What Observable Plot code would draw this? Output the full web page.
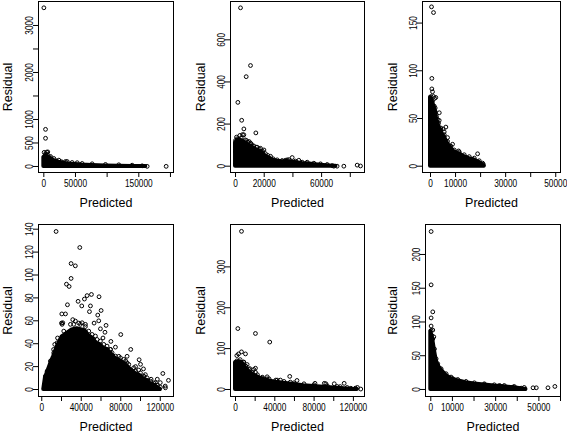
<!DOCTYPE html>
<html>
<head>
<meta charset="utf-8">
<script src="https://cdn.jsdelivr.net/npm/d3@7"></script>
<script src="https://cdn.jsdelivr.net/npm/@observablehq/plot@0.6"></script>
<style>
  html, body { margin: 0; padding: 0; background: #fff; }
  #wrap { position: relative; width: 567px; height: 433px; background: #fff; overflow: hidden; }
  #wrap svg { position: absolute; }
</style>
</head>
<body>
<div id="wrap"></div>
<script>
// ---------- Panel 1 (top left) ----------
const p1EnvPred = [0, 2680, 5300, 10570, 15830, 23720, 34250, 44770, 60560, 76000, 97000, 118000, 140000, 158000, 161000];
const p1EnvRes  = [190, 225, 210, 165, 125, 90, 62, 45, 30, 20, 10, 5, 2, 0, 0];
const p1OutPred = [100, 2700, 2700, 500, 4500, 6300, 8400, 13600, 36900, 52700, 163200, 193200, 3500, 20000, 28000, 10500,
                   2680, 5310, 10570, 15830, 23720, 34250, 44770, 60560, 76350, 97400, 118400, 139500, 155300];
const p1OutRes  = [3376, 790, 600, 300, 305, 310, 200, 145, 106, 80, 3, 3, 250, 120, 100, 170,
                   270, 255, 213, 170, 135, 106, 85, 64, 57, 43, 36, 28, 14];
const p1XTicks = [0, 50000, 100000, 150000, 200000];
const p1XLabels = [0, 50000, 150000];
const p1YTicks = [0, 500, 1000, 1500, 2000, 2500, 3000];
const p1YLabels = [0, 500, 1000, 2000, 3000];

// ---------- Panel 2 (top middle) ----------
const p2EnvPred = [0, 2000, 4000, 6700, 8600, 10900, 12800, 14600, 16500, 18800, 20900, 22500, 26300, 29000, 32500, 36000, 41800, 46500, 50000, 54600, 59300, 63900, 67400, 70000];
const p2EnvRes  = [110, 125, 122, 112, 102, 94, 85, 78, 70, 60, 49, 42, 28, 24, 21, 22, 17, 13, 12, 8, 5, 2, 0, 0];
const p2OutPred = [3480, 10450, 7440, 1630, 4300, 5820, 14170, 4880, 5810, 1160, 230, 2100, 7660, 9500, 10450, 11600, 15100, 17400, 19800, 18600, 16300, 24400, 23900, 39500, 44100, 37200, 34800, 68500, 70800, 75500, 84800, 87100,
                   0, 700, 3020, 3950, 6740, 8600, 10920, 12780, 14640, 16500, 18820, 20910, 22540, 26260, 29040, 32530, 36000, 41820, 46470, 49950, 54600, 59250, 63900, 67390];
const p2OutRes  = [752, 478, 425, 303, 218, 177, 158, 150, 149, 130, 114, 116, 122, 117, 109, 98, 90, 85, 77, 66, 74, 47, 36, 41, 28, 31, 28, 0, 0, 0, 5, 1,
                   122, 138, 146, 134, 125, 114, 106, 96, 90, 82, 71, 59, 51, 35, 30, 27, 30, 24, 19, 19, 14, 11, 8, 3];
const p2XTicks = [0, 20000, 40000, 60000, 80000];
const p2XLabels = [0, 20000, 60000];
const p2YTicks = [0, 200, 400, 600];
const p2YLabels = [0, 200, 400, 600];

// ---------- Panel 3 (top right) ----------
const p3EnvPred = [0, 800, 1870, 2400, 3200, 4130, 5470, 6800, 8130, 9470, 11470, 13470, 15470, 17470, 19470, 20800, 21500];
const p3EnvRes  = [72, 67, 59, 50, 43, 36, 31, 24, 19, 15, 13, 10, 8, 6.5, 4, 1.5, 0];
const p3OutPred = [400, 1200, 530, 530, 800, 1200, 1600, 2100, 1500, 1900, 3500, 2800, 3470, 4130, 5070, 6130, 5470, 6800, 5070, 11200, 18800, 14130, 16800, 21070, 19500, 8800,
                   130, 800, 1870, 2400, 3200, 4130, 5470, 6800, 8130, 9470, 11470, 13470, 15470, 17470, 19470, 20800];
const p3OutRes  = [167, 161, 92, 81, 78, 73, 71, 72, 63, 57, 56, 49, 48, 40, 39, 41, 36, 30, 30, 16, 13, 9, 7, 2, 2, 23,
                   73, 68, 61, 52, 45, 38, 33, 26, 21, 17, 15, 12, 10, 8.5, 5.7, 3.2];
const p3XTicks = [0, 10000, 20000, 30000, 40000, 50000];
const p3XLabels = [0, 10000, 30000, 50000];
const p3YTicks = [0, 50, 100, 150];
const p3YLabels = [0, 50, 100, 150];

// ---------- Panel 4 (bottom left) ----------
const p4EnvPred = [2000, 3700, 5400, 8780, 12150, 15530, 20600, 25700, 30700, 35800, 40800, 44200, 47600, 51000, 56000, 59400, 62800, 66200, 69500, 74600, 79700, 83000, 88100, 94900, 99900, 103300, 106700, 110000, 113400, 116800, 120200];
const p4EnvRes  = [0, 10, 14, 22, 29, 37, 46, 49, 52, 53, 52, 51, 47, 45, 40, 39, 36, 35, 32, 27, 25, 23, 19, 14, 12, 9, 8, 5, 4, 2, 0];
const p4OutPred = [14500, 38500, 29700, 34000, 29700, 25000, 27700, 58000, 45900, 50300, 43200, 36800, 26000, 40500, 49300, 60100, 20300, 56700, 48300, 65100, 57700, 80000, 90100, 98600, 122600, 128300, 115100, 20000, 24000, 31400, 37500, 44200, 59400, 86400, 78000, 98200, 104900, 110700, 117000, 74600, 69600, 106000, 112000, 120000, 125000, 95000, 100000, 103000, 85000, 70000, 64000, 53000, 16000, 12000, 62000,
                   3710, 5400, 8780, 12150, 13170, 15530, 20600, 21270, 22280, 27340, 29030, 32400, 34090, 39150, 40840, 44220, 47590, 50970, 54340, 56030, 59400, 62780, 66160, 69530, 71220, 74600, 79660, 83040, 86410, 88100, 93170, 94860, 99920, 103300, 106670, 110050, 113420, 116800, 120170, 125230];
const p4OutRes  = [138, 124, 110, 108, 97, 92, 90, 81, 82, 83, 79, 77, 74, 73, 73, 69, 66, 65, 68, 56, 60, 48, 35, 26, 14, 8, 6, 58, 66, 61, 58, 55, 53, 29, 29, 17, 13, 9, 9, 37, 35, 8, 4, 6, 3, 20, 22, 18, 25, 42, 50, 58, 45, 35, 45,
                   11.7, 16, 24.9, 32.1, 39.4, 40.8, 56.9, 58.3, 51, 49.6, 56.9, 56.9, 59.8, 56.9, 58.3, 56.9, 51, 48.1, 46.7, 43.7, 42.3, 39.4, 37.9, 35, 32.1, 29.2, 27.7, 26.3, 23.3, 21.9, 19, 16, 14.6, 11.7, 10.2, 7.3, 5.8, 3.8, 2, 1.5];
const p4XTicks = [0, 20000, 40000, 60000, 80000, 100000, 120000];
const p4XLabels = [0, 40000, 80000, 120000];
const p4YTicks = [0, 20, 40, 60, 80, 100, 120, 140];
const p4YLabels = [0, 20, 40, 60, 80, 100, 120, 140];

// ---------- Panel 5 (bottom middle) ----------
const p5EnvPred = [0, 5000, 8100, 10500, 13900, 17300, 22300, 27400, 34200, 40900, 49400, 59600, 69700, 79900, 93400, 103500, 113700, 120000, 124000];
const p5EnvRes  = [66, 68, 62, 52, 44, 37, 31, 25, 21, 18, 15, 12, 9, 7, 5, 3, 1, 0, 0];
const p5OutPred = [6090, 2370, 20300, 34840, 1350, 3040, 6090, 10150, 8460, 11840, 14550, 18600, 20300, 20300, 27100, 32200, 42300, 45700, 55200, 62600, 55800, 80900, 90400, 92000, 100500, 110600, 106600, 117400, 124100, 127500, 32200,
                   1350, 4740, 8120, 10490, 13870, 17250, 22330, 27400, 34170, 40940, 49400, 59550, 69700, 79850, 93380, 103500, 113700, 122100];
const p5OutRes  = [387, 149, 137, 116, 83, 87, 92, 87, 67, 61, 51, 49, 52, 42, 28, 26, 23, 23, 32, 22, 18, 15, 15, 14, 14, 15, 7, 3, 5, 1, 31,
                   70, 73, 67, 57, 49, 42, 36, 30, 26, 22.9, 19.6, 16.3, 13.9, 11.4, 9, 7.4, 4.9, 3.3];
const p5XTicks = [0, 20000, 40000, 60000, 80000, 100000, 120000];
const p5XLabels = [0, 40000, 80000, 120000];
const p5YTicks = [0, 100, 200, 300];
const p5YLabels = [0, 100, 200, 300];

// ---------- Panel 6 (bottom right) ----------
const p6EnvPred = [0, 920, 1690, 2460, 3230, 4770, 7080, 9380, 12460, 16300, 20150, 24770, 29380, 34000, 38610, 43230, 44000];
const p6EnvRes  = [86, 74, 58, 44, 36, 29, 21, 16, 13, 10, 8, 6.5, 5, 4, 2.5, 0.5, 0];
const p6OutPred = [150, 150, 920, 150, 150, 920, 460, 1400, 3230, 4760, 5080, 10150, 14000, 24800, 31800, 38000, 41800, 47300, 48800, 54200, 57400,
                   150, 920, 1690, 2460, 3230, 4770, 7080, 9380, 12460, 16300, 20150, 24770, 29380, 34000, 38610, 43230];
const p6OutRes  = [234, 155, 115, 106, 94, 88, 80, 78, 31, 27, 23, 16, 8, 7, 6, 3.5, 2, 2.5, 2.5, 2.5, 4.5,
                   87.5, 75, 60, 45.5, 38, 30.7, 23.3, 18.4, 14.8, 11.9, 9.9, 8.4, 6.9, 5.9, 4.5, 3];
const p6XTicks = [0, 10000, 20000, 30000, 40000, 50000, 60000];
const p6XLabels = [0, 10000, 30000, 50000];
const p6YTicks = [0, 50, 100, 150, 200];
const p6YLabels = [0, 50, 100, 150, 200];

const xLabelText = "Predicted";
const yLabelText = "Residual";

const FONT = "'Liberation Sans', Arial, Helvetica, sans-serif";

function zip(a, b) { return a.map((v, i) => ({pred: v, res: b[i]})); }

// narrow the tick label glyphs horizontally (R's labels are narrower than Liberation Sans)
function narrowTickLabels(svg) {
  svg.querySelectorAll('g[aria-label$="tick label"] text').forEach(t => {
    const tr = t.getAttribute("transform");
    if (tr) {
      t.setAttribute("transform", tr + " scale(0.83,1)");
    } else {
      const x = +t.getAttribute("x") || 0, y = +t.getAttribute("y") || 0;
      t.removeAttribute("x"); t.removeAttribute("y");
      t.setAttribute("transform", `translate(${x},${y}) scale(0.83,1)`);
    }
  });
}

function panel(cfg) {
  const env = zip(cfg.envPred, cfg.envRes);
  const out = zip(cfg.outPred, cfg.outRes);
  const svg = Plot.plot({
    width: cfg.width, height: cfg.height,
    marginLeft: cfg.ml, marginRight: cfg.mr, marginTop: cfg.mt, marginBottom: cfg.mb,
    x: {domain: cfg.xDomain, label: null},
    y: {domain: cfg.yDomain, label: null},
    style: {fontFamily: FONT, fontSize: "10px", color: "#000", background: "#fff", overflow: "visible"},
    marks: [
      Plot.areaY(env, {x: "pred", y: "res", fill: "#000", stroke: "#000", strokeWidth: 4, strokeLinejoin: "round"}),
      Plot.dot(out, {x: "pred", y: "res", r: 1.9, stroke: "#000", strokeWidth: 1, fill: "none"}),
      Plot.frame({stroke: "#000", strokeWidth: 1}),
      Plot.axisX({ticks: cfg.xTicks, tickFormat: d => cfg.xLabels.includes(d) ? String(d) : "", tickSize: 5, tickPadding: 2, label: null, fontSize: 10}),
      Plot.axisY({ticks: cfg.yTicks, tickFormat: d => cfg.yLabels.includes(d) ? String(d) : "", tickSize: 5, tickPadding: 1, tickRotate: -90, label: null, fontSize: 10}),
      Plot.text([xLabelText], {text: d => d, frameAnchor: "bottom", lineAnchor: "middle", textAnchor: "middle", dy: 30, fontSize: 12.5}),
      Plot.text([yLabelText], {text: d => d, frameAnchor: "left", rotate: -90, lineAnchor: "middle", textAnchor: "middle", dx: -(cfg.ml - cfg.ylx), fontSize: 12.5})
    ]
  });
  narrowTickLabels(svg);
  svg.style.left = cfg.left + "px";
  svg.style.top = cfg.top + "px";
  document.getElementById("wrap").appendChild(svg);
}

panel({left: 0, top: 0, width: 189, height: 216, ml: 38, mr: 16, mt: 1, mb: 44, ylx: 7.5,
  xDomain: [-8400, 204800], yDomain: [-128, 3510],
  envPred: p1EnvPred, envRes: p1EnvRes, outPred: p1OutPred, outRes: p1OutRes,
  xTicks: p1XTicks, xLabels: p1XLabels, yTicks: p1YTicks, yLabels: p1YLabels});

panel({left: 190, top: 0, width: 189, height: 216, ml: 40, mr: 15, mt: 1, mb: 44, ylx: 10,
  xDomain: [-3500, 89900], yDomain: [-30, 782],
  envPred: p2EnvPred, envRes: p2EnvRes, outPred: p2OutPred, outRes: p2OutRes,
  xTicks: p2XTicks, xLabels: p2XLabels, yTicks: p2YTicks, yLabels: p2YLabels});

panel({left: 377, top: 0, width: 190, height: 216, ml: 45, mr: 7, mt: 1, mb: 44, ylx: 15,
  xDomain: [-3200, 51900], yDomain: [-6.6, 172.6],
  envPred: p3EnvPred, envRes: p3EnvRes, outPred: p3OutPred, outRes: p3OutRes,
  xTicks: p3XTicks, xLabels: p3XLabels, yTicks: p3YTicks, yLabels: p3YLabels});

panel({left: 0, top: 216, width: 189, height: 217, ml: 38, mr: 16, mt: 8, mb: 37, ylx: 7.5,
  xDomain: [-3300, 133400], yDomain: [-6.1, 144.1],
  envPred: p4EnvPred, envRes: p4EnvRes, outPred: p4OutPred, outRes: p4OutRes,
  xTicks: p4XTicks, xLabels: p4XLabels, yTicks: p4YTicks, yLabels: p4YLabels});

panel({left: 190, top: 216, width: 189, height: 217, ml: 40, mr: 15, mt: 8, mb: 37, ylx: 10,
  xDomain: [-5100, 131300], yDomain: [-17.2, 403.7],
  envPred: p5EnvPred, envRes: p5EnvRes, outPred: p5OutPred, outRes: p5OutRes,
  xTicks: p5XTicks, xLabels: p5XLabels, yTicks: p5YTicks, yLabels: p5YLabels});

panel({left: 377, top: 216, width: 190, height: 217, ml: 48, mr: 7, mt: 8, mb: 37, ylx: 15,
  xDomain: [-2450, 60000], yDomain: [-10.4, 244.4],
  envPred: p6EnvPred, envRes: p6EnvRes, outPred: p6OutPred, outRes: p6OutRes,
  xTicks: p6XTicks, xLabels: p6XLabels, yTicks: p6YTicks, yLabels: p6YLabels});
</script>
</body>
</html>
